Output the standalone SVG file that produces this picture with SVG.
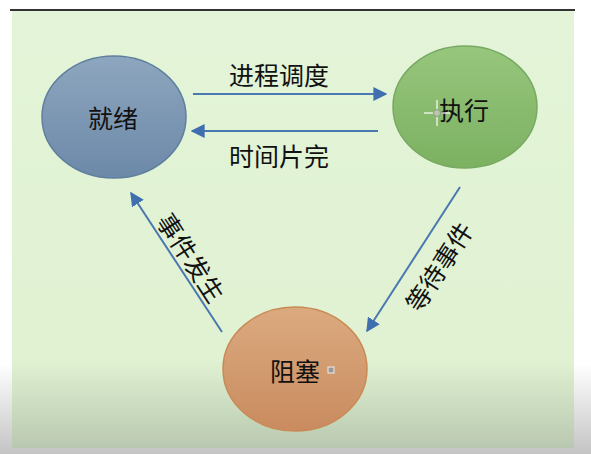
<svg xmlns="http://www.w3.org/2000/svg" width="591" height="454" viewBox="0 0 591 454">
<defs>
<linearGradient id="outer" x1="0" y1="0" x2="0" y2="1">
<stop offset="0" stop-color="#ffffff"/>
<stop offset="0.8" stop-color="#ffffff"/>
<stop offset="1" stop-color="#c4c4c4"/>
</linearGradient>
<linearGradient id="panel" x1="0" y1="0" x2="0" y2="1">
<stop offset="0" stop-color="#e3f4d8"/>
<stop offset="0.8" stop-color="#e0f2d2"/>
<stop offset="1" stop-color="#b9c8b0"/>
</linearGradient>
<linearGradient id="gBlue" x1="0" y1="0" x2="0" y2="1">
<stop offset="0" stop-color="#8ea6bf"/>
<stop offset="1" stop-color="#6c89a8"/>
</linearGradient>
<linearGradient id="gGreen" x1="0" y1="0" x2="0" y2="1">
<stop offset="0" stop-color="#97c67d"/>
<stop offset="1" stop-color="#7cb161"/>
</linearGradient>
<linearGradient id="gOrange" x1="0" y1="0" x2="0" y2="1">
<stop offset="0" stop-color="#dcaa80"/>
<stop offset="1" stop-color="#c98b5f"/>
</linearGradient>
<marker id="arr" viewBox="0 0 10 10" refX="9" refY="5" markerWidth="7" markerHeight="7" orient="auto" markerUnits="strokeWidth">
<path d="M0,0 L10,5 L0,10 z" fill="#3f6fae"/>
</marker>
<style>
.lbl{font-family:"Noto Sans CJK SC","Noto Sans",sans-serif;font-size:25px;fill:#111;text-anchor:middle;dominant-baseline:central}
.edge{stroke:#4a78b0;stroke-width:2;fill:none;marker-end:url(#arr)}
</style>
</defs>
<rect x="0" y="0" width="591" height="454" fill="url(#outer)"/>
<rect x="12" y="10" width="562" height="438" fill="url(#panel)"/>
<line x1="10" y1="10" x2="575" y2="10" stroke="#333" stroke-width="2"/>

<g id="connectors">
<line class="edge" x1="193" y1="94" x2="386" y2="94"/>
<line class="edge" x1="378" y1="131" x2="192" y2="131"/>
<line class="edge" x1="460" y1="187" x2="367" y2="331"/>
<line class="edge" x1="222" y1="332" x2="131" y2="193"/>
<text class="lbl" x="279" y="74">进程调度</text>
<text class="lbl" x="279" y="155">时间片完</text>
<text class="lbl" transform="translate(438,266) rotate(-57)">等待事件</text>
<text class="lbl" transform="translate(192,257) rotate(57)">事件发生</text>
</g>

<g id="ready">
<ellipse cx="114" cy="117" rx="72" ry="61" fill="url(#gBlue)" stroke="#5f7f9f" stroke-width="1.5"/>
<text class="lbl" x="113" y="117">就绪</text>
</g>

<g id="running">
<ellipse cx="465" cy="107" rx="72" ry="61" fill="url(#gGreen)" stroke="#78a962" stroke-width="1.5"/>
<text class="lbl" x="464" y="109">执行</text>
<g stroke="#ffffff" stroke-width="1.5" opacity="0.8">
<line x1="424" y1="113" x2="450" y2="113"/>
<line x1="437" y1="100" x2="437" y2="126"/>
</g>
<circle cx="437" cy="113" r="3.5" fill="#b9c8a8" stroke="#8a9a80"/>
</g>

<g id="blocked">
<ellipse cx="295" cy="369" rx="72" ry="62" fill="url(#gOrange)" stroke="#c98a55" stroke-width="1.5"/>
<text class="lbl" x="295" y="370">阻塞</text>
<rect x="328" y="367" width="6" height="6" fill="#999" stroke="#eee" stroke-width="1"/>
</g>
</svg>
